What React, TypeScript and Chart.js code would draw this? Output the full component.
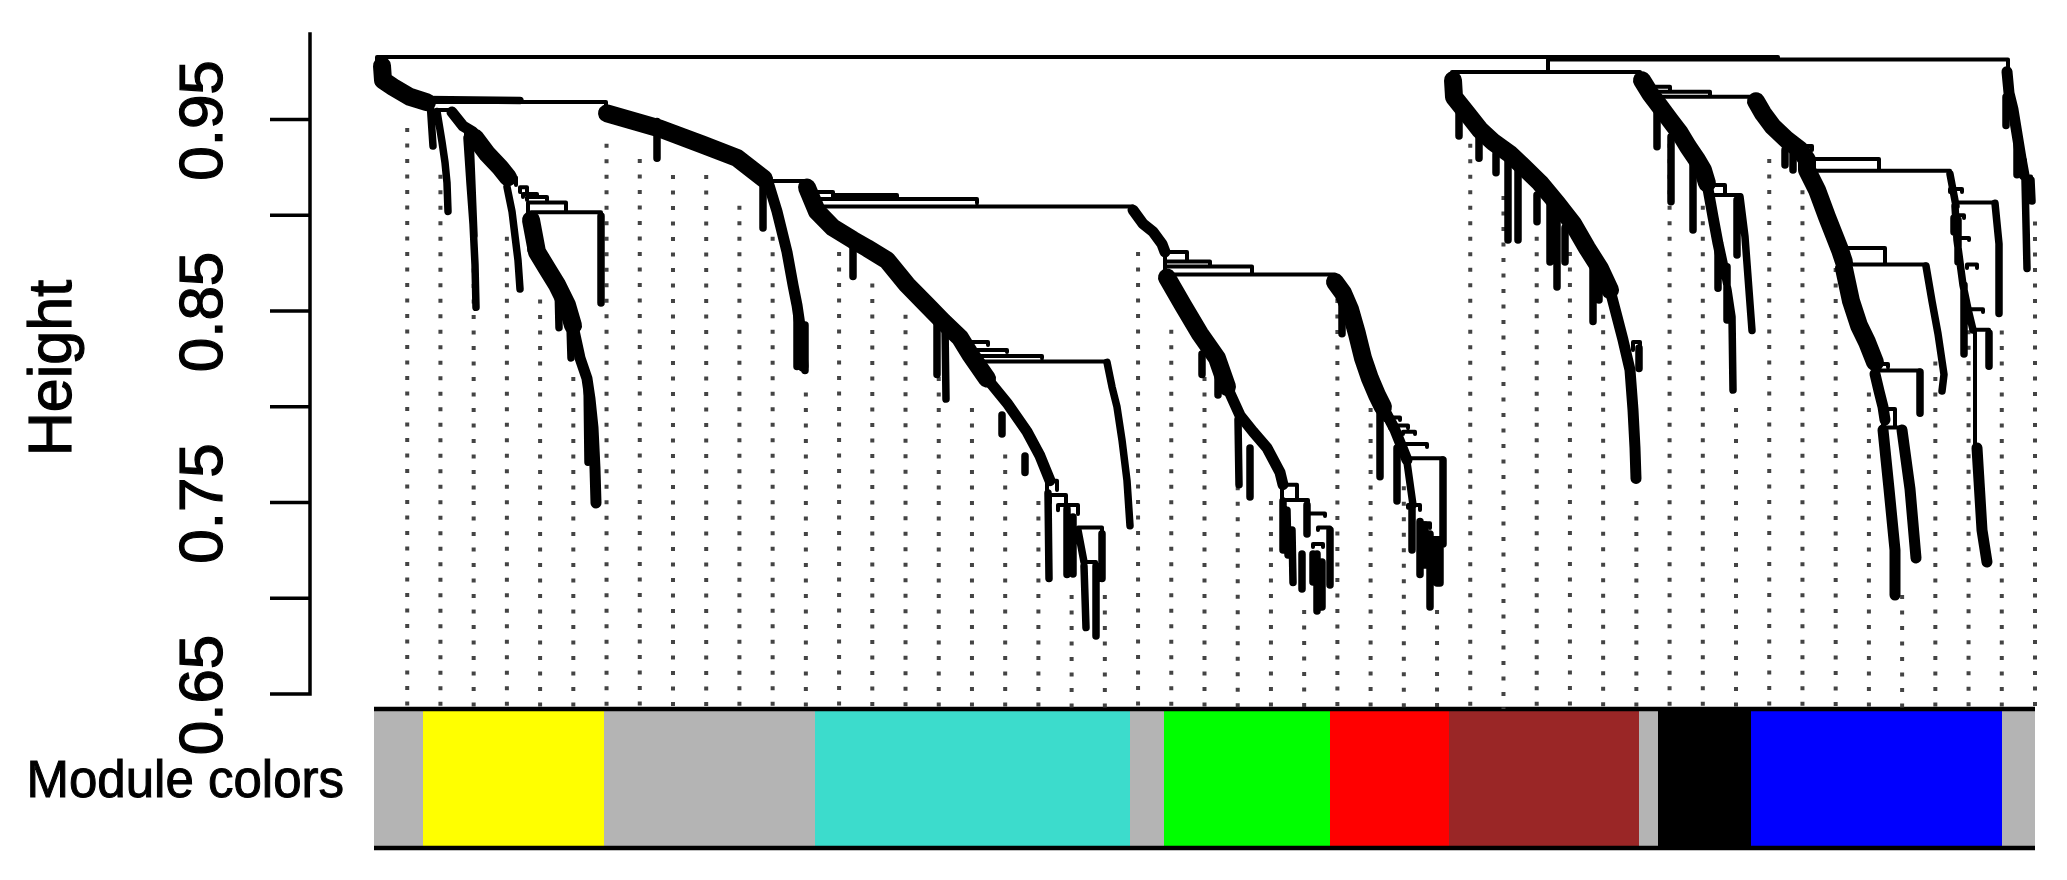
import React, { useEffect, useRef } from 'react';
import { Chart, registerables } from 'chart.js';

Chart.register(...registerables);

// ---------- data ----------
const LEAF_COUNT = 1661; // genes along the dendrogram (leaf order index)

// module colour bar: start leaf of each run, and its module colour
const moduleStarts = [0, 49, 230, 441, 756, 790, 956, 1075, 1265, 1284, 1377, 1628];
const moduleNames = ['grey', 'yellow', 'grey', 'turquoise', 'grey', 'green', 'red', 'brown', 'grey', 'black', 'blue', 'grey'];
const moduleHex: Record<string, string> = {
  grey: '#B4B4B4', yellow: '#FFFF00', turquoise: '#3CDCCC', green: '#00FF00',
  red: '#FF0000', brown: '#9A2626', black: '#000000', blue: '#0000FF',
};

// y axis
const yTickValues = [0.65, 0.7, 0.75, 0.8, 0.85, 0.9, 0.95];
const yTickLabels = ['0.65', '', '0.75', '', '0.85', '', '0.95'];
const yAxisTop = 0.9955;

// heights at which the 50 dotted guide lines start
const guideTops = [
  0.9456, 0.9212, 0.8722, 0.8888, 0.856, 0.8155, 0.9374, 0.9294, 0.921, 0.921,
  0.905, 0.8888, 0.8075, 0.8808, 0.8643, 0.8481, 0.8155, 0.7993, 0.775, 0.7508,
  0.7017, 0.7017, 0.8808, 0.8402, 0.8155, 0.7585, 0.7508, 0.6939, 0.8643, 0.7993,
  0.7585, 0.6939, 0.9374, 0.91, 0.8888, 0.8808, 0.8481, 0.7508, 0.9374, 0.905,
  0.7993, 0.9294, 0.913, 0.8725, 0.8075, 0.7017, 0.8236, 0.8481, 0.8398, 0.8967,
];

// merges: [left leaf pos, left child height, right leaf pos, right child height, merge height]
const links: number[][] = [
  [3, 0.979, 1404, 0.9813, 0.9826],
  [1174, 0.9748, 1634, 0.9755, 0.9813],
  [1078, 0.9738, 1266, 0.9723, 0.9748],
  [53, 0.956, 232, 0.9544, 0.9591],
  [63, 0.9535, 78, 0.9539, 0.955],
  [92, 0.9419, 101, 0.9419, 0.9445],
  [134, 0.9158, 142, 0.9158, 0.9197],
  [146, 0.9121, 153, 0.9121, 0.9146],
  [149, 0.9095, 163, 0.9095, 0.9111],
  [153, 0.908, 173, 0.908, 0.9095],
  [154, 0.9001, 192, 0.9015, 0.9066],
  [157, 0.8978, 227, 0.8996, 0.9015],
  [389, 0.9205, 430, 0.9153, 0.9179],
  [436, 0.9121, 459, 0.9106, 0.9122],
  [459, 0.909, 523, 0.909, 0.9106],
  [443, 0.9064, 603, 0.9064, 0.9085],
  [441, 0.9027, 759, 0.9027, 0.9046],
  [589, 0.8322, 614, 0.8322, 0.8338],
  [596, 0.8286, 633, 0.8286, 0.8296],
  [593, 0.8255, 668, 0.8255, 0.8265],
  [598, 0.8218, 733, 0.8232, 0.8236],
  [673, 0.7565, 683, 0.7565, 0.7614],
  [676, 0.75, 692, 0.7466, 0.7539],
  [684, 0.746, 704, 0.744, 0.7487],
  [704, 0.7356, 728, 0.7337, 0.7369],
  [710, 0.7168, 722, 0.7168, 0.7189],
  [791, 0.8758, 813, 0.8758, 0.8808],
  [791, 0.8733, 836, 0.8733, 0.8758],
  [791, 0.869, 878, 0.869, 0.8733],
  [793, 0.8662, 961, 0.8658, 0.869],
  [908, 0.7519, 923, 0.7519, 0.7593],
  [909, 0.7498, 934, 0.7487, 0.7513],
  [933, 0.7429, 951, 0.7429, 0.7443],
  [944, 0.7356, 956, 0.7356, 0.7369],
  [939, 0.7268, 949, 0.7268, 0.7283],
  [1011, 0.7931, 1026, 0.7931, 0.7944],
  [1016, 0.7889, 1034, 0.7889, 0.7902],
  [1029, 0.7858, 1041, 0.7858, 0.787],
  [1031, 0.779, 1053, 0.779, 0.7806],
  [1033, 0.7711, 1069, 0.7722, 0.7731],
  [1034, 0.7472, 1046, 0.7461, 0.7487],
  [1046, 0.7377, 1056, 0.7367, 0.7391],
  [1054, 0.7304, 1066, 0.7294, 0.7315],
  [1174, 0.9066, 1183, 0.9066, 0.9097],
  [1259, 0.8296, 1266, 0.8296, 0.8338],
  [1281, 0.9645, 1296, 0.9645, 0.9671],
  [1283, 0.9619, 1336, 0.9619, 0.9645],
  [1286, 0.9567, 1383, 0.9611, 0.9619],
  [1333, 0.9116, 1351, 0.9116, 0.9158],
  [1334, 0.909, 1366, 0.9097, 0.9106],
  [1426, 0.9341, 1438, 0.9341, 0.9362],
  [1430, 0.9263, 1505, 0.9233, 0.9294],
  [1432, 0.921, 1576, 0.9215, 0.9233],
  [1468, 0.8808, 1511, 0.8743, 0.8829],
  [1470, 0.8722, 1552, 0.8735, 0.8743],
  [1500, 0.8208, 1514, 0.8208, 0.8223],
  [1501, 0.8171, 1546, 0.8181, 0.8189],
  [1509, 0.7899, 1521, 0.7899, 0.7988],
  [1509, 0.7879, 1528, 0.7879, 0.7891],
  [1576, 0.9121, 1588, 0.9121, 0.9137],
  [1582, 0.9048, 1621, 0.9063, 0.9067],
  [1580, 0.8986, 1590, 0.8986, 0.9],
  [1583, 0.8871, 1595, 0.8871, 0.8881],
  [1593, 0.8725, 1603, 0.8725, 0.8743],
  [1595, 0.8495, 1609, 0.8495, 0.8509],
  [1601, 0.7785, 1615, 0.8385, 0.8402],
  [1644, 0.9221, 1651, 0.9221, 0.9288],
  [1650, 0.9184, 1657, 0.9184, 0.9202],
];

// dense cascades of many small merges: [leaf pos, height] paths
const denseCascades: number[][][] = [
  [[8, 0.978], [9, 0.9705], [19, 0.967], [36, 0.9618], [53, 0.959]],
  [[233, 0.9532], [286, 0.9452], [329, 0.9368], [363, 0.93], [390, 0.919]],
  [[101, 0.9405], [113, 0.9322], [126, 0.925], [134, 0.9198]],
  [[157, 0.8975], [163, 0.8808], [173, 0.8722], [183, 0.8637], [193, 0.8531], [199, 0.8424]],
  [[433, 0.9145], [443, 0.902], [459, 0.8935], [479, 0.8871], [493, 0.8829], [513, 0.8765], [533, 0.8637], [553, 0.8531], [569, 0.8445], [586, 0.836], [596, 0.8275], [613, 0.8147]],
  [[793, 0.8675], [809, 0.853], [826, 0.8381], [843, 0.8254], [853, 0.8104]],
  [[961, 0.8652], [969, 0.8594], [976, 0.8509], [983, 0.8381], [989, 0.8254], [996, 0.8147], [1003, 0.8061], [1009, 0.7998]],
  [[1079, 0.9705], [1080, 0.9617], [1093, 0.9532], [1106, 0.9446], [1119, 0.9383], [1136, 0.9319], [1149, 0.9255], [1166, 0.9169], [1183, 0.9063], [1199, 0.8956], [1213, 0.8829], [1226, 0.8722], [1236, 0.861]],
  [[1268, 0.9705], [1276, 0.9637], [1286, 0.9567], [1296, 0.9497], [1306, 0.9428], [1314, 0.9358], [1323, 0.9289], [1329, 0.9236], [1333, 0.9167]],
  [[1382, 0.9595], [1389, 0.9532], [1399, 0.9462], [1413, 0.9393], [1426, 0.9341], [1433, 0.9289], [1433, 0.9236], [1443, 0.9132], [1453, 0.8992], [1466, 0.8819], [1470, 0.8756]],
  [[1470, 0.8722], [1477, 0.8552], [1485, 0.8424], [1493, 0.8338], [1501, 0.8232]],
];

// tapering branch tails
const branchTails: number[][][] = [
  [[199, 0.8424], [206, 0.8255], [213, 0.8147], [216, 0.8041], [219, 0.7891], [221, 0.7678], [222, 0.7497]],
  [[393, 0.9191], [403, 0.902], [413, 0.8808], [419, 0.8636], [423, 0.8531], [426, 0.8424], [429, 0.8211]],
  [[613, 0.8147], [633, 0.802], [653, 0.787], [666, 0.7743], [676, 0.7614]],
  [[759, 0.9027], [769, 0.8956], [779, 0.8914], [788, 0.885], [791, 0.8808]],
  [[853, 0.8104], [866, 0.7955], [879, 0.787], [893, 0.7785], [906, 0.7657], [909, 0.7593]],
  [[1009, 0.7998], [1021, 0.7879], [1029, 0.7774], [1033, 0.7722]],
  [[1236, 0.861], [1243, 0.847], [1249, 0.8349], [1256, 0.8192], [1259, 0.7983], [1261, 0.7785], [1262, 0.7625]],
  [[1333, 0.9167], [1339, 0.8992], [1344, 0.8853], [1349, 0.8731]],
  [[1501, 0.8171], [1505, 0.8082], [1509, 0.7999], [1511, 0.7931]],
  [[1509, 0.7879], [1515, 0.7571], [1521, 0.7252], [1521, 0.7017]],
  [[1528, 0.7879], [1536, 0.7571], [1542, 0.721]],
  [[1603, 0.7785], [1608, 0.7356], [1613, 0.7189]],
  [[1633, 0.975], [1635, 0.9638], [1639, 0.9553], [1643, 0.9425], [1647, 0.9297], [1650, 0.921]],
  [[78, 0.9539], [89, 0.9466], [99, 0.9435]],
];

// single leaf drops and small sub-branches
const leafDrops: number[][][] = [
  [[53, 0.9604], [146, 0.9599]],
  [[56, 0.9597], [59, 0.9362]],
  [[63, 0.9542], [68, 0.9383], [71, 0.9276], [73, 0.9169], [74, 0.902]],
  [[93, 0.9403], [96, 0.9169], [99, 0.8956], [101, 0.8743], [102, 0.8519]],
  [[96, 0.9403], [100, 0.8892]],
  [[133, 0.9147], [138, 0.902], [141, 0.8892], [144, 0.8765], [146, 0.8615]],
  [[227, 0.8996], [227, 0.8542]],
  [[156, 0.8978], [157, 0.8818]],
  [[184, 0.8636], [185, 0.8413]],
  [[196, 0.8424], [197, 0.8255]],
  [[213, 0.8147], [214, 0.771]],
  [[283, 0.9489], [283, 0.9297]],
  [[389, 0.9208], [389, 0.8933]],
  [[423, 0.8531], [423, 0.821]],
  [[431, 0.8427], [431, 0.8189]],
  [[479, 0.8829], [479, 0.868]],
  [[563, 0.8467], [563, 0.8168]],
  [[571, 0.8424], [572, 0.804]],
  [[628, 0.7957], [628, 0.7858]],
  [[651, 0.7743], [651, 0.7657]],
  [[733, 0.8232], [738, 0.8104], [743, 0.7999], [748, 0.7826], [753, 0.7614], [756, 0.7379]],
  [[674, 0.755], [675, 0.7103]],
  [[693, 0.7466], [693, 0.7124]],
  [[699, 0.7424], [699, 0.7127]],
  [[728, 0.7337], [728, 0.7103]],
  [[704, 0.7356], [710, 0.7189]],
  [[710, 0.7168], [712, 0.6847]],
  [[722, 0.7168], [722, 0.6803]],
  [[828, 0.8275], [828, 0.8168]],
  [[844, 0.8255], [844, 0.8061]],
  [[864, 0.7934], [865, 0.7593]],
  [[876, 0.7785], [876, 0.7529]],
  [[909, 0.7508], [909, 0.7252]],
  [[913, 0.746], [914, 0.7226]],
  [[918, 0.7356], [919, 0.7082]],
  [[928, 0.7231], [928, 0.7048]],
  [[933, 0.7487], [933, 0.7335]],
  [[939, 0.7231], [939, 0.7085]],
  [[943, 0.7231], [943, 0.6933]],
  [[948, 0.7189], [948, 0.6954]],
  [[956, 0.7356], [956, 0.7069]],
  [[968, 0.8594], [968, 0.8381]],
  [[1006, 0.8041], [1006, 0.7635]],
  [[1023, 0.7785], [1023, 0.7508]],
  [[1069, 0.7722], [1069, 0.7283]],
  [[1033, 0.7711], [1039, 0.7487]],
  [[1038, 0.7487], [1038, 0.7252]],
  [[1046, 0.7401], [1046, 0.7124]],
  [[1051, 0.7383], [1051, 0.7174]],
  [[1056, 0.7335], [1056, 0.6954]],
  [[1063, 0.7294], [1063, 0.708]],
  [[1066, 0.7278], [1066, 0.708]],
  [[1085, 0.9545], [1085, 0.9414]],
  [[1105, 0.9446], [1105, 0.9297]],
  [[1122, 0.932], [1122, 0.9222]],
  [[1134, 0.932], [1134, 0.8871]],
  [[1144, 0.9276], [1144, 0.8871]],
  [[1163, 0.9106], [1163, 0.8966]],
  [[1176, 0.9064], [1176, 0.8756]],
  [[1183, 0.902], [1183, 0.8625]],
  [[1191, 0.8935], [1191, 0.8756]],
  [[1219, 0.8743], [1219, 0.8445]],
  [[1225, 0.8725], [1225, 0.8557]],
  [[1265, 0.8307], [1265, 0.82]],
  [[1283, 0.9532], [1283, 0.9358]],
  [[1297, 0.941], [1297, 0.9071]],
  [[1319, 0.9289], [1319, 0.8923]],
  [[1344, 0.8836], [1344, 0.8619]],
  [[1353, 0.8731], [1353, 0.8453]],
  [[1349, 0.8731], [1354, 0.861], [1358, 0.847], [1359, 0.8087]],
  [[1366, 0.9097], [1371, 0.8888], [1378, 0.8398]],
  [[1363, 0.908], [1363, 0.8792]],
  [[1411, 0.9341], [1411, 0.9263]],
  [[1419, 0.9325], [1419, 0.9236]],
  [[1552, 0.8735], [1558, 0.8552], [1564, 0.8381], [1570, 0.8168], [1568, 0.8082]],
  [[1546, 0.8181], [1546, 0.7966]],
  [[1576, 0.9215], [1582, 0.9048]],
  [[1581, 0.9048], [1583, 0.8871], [1589, 0.8636], [1594, 0.851], [1599, 0.8401]],
  [[1621, 0.9063], [1625, 0.885], [1625, 0.8487]],
  [[1580, 0.8986], [1580, 0.8913]],
  [[1584, 0.8975], [1584, 0.8756]],
  [[1590, 0.8636], [1590, 0.8275]],
  [[1615, 0.8385], [1615, 0.8211]],
  [[1632, 0.9617], [1632, 0.9468]],
  [[1643, 0.9425], [1643, 0.9212]],
  [[1651, 0.9184], [1653, 0.8722]],
  [[1657, 0.9184], [1658, 0.9074]],
];

// colour bar extent on the height scale (below the dendrogram)
const barTopH = 0.6422;
const barBottomH = 0.5696;

// ---------- helpers turning the arrays into Chart.js series ----------
type P = { x: number; y: number | null };
function pathData(paths: number[][][]): P[] {
  const out: P[] = [];
  paths.forEach((p) => {
    p.forEach(([x, y]) => out.push({ x, y }));
    out.push({ x: p[p.length - 1][0], y: null });
  });
  return out;
}
function linkData(ls: number[][]): P[] {
  const out: P[] = [];
  ls.forEach(([xl, hl, xr, hr, hm]) => {
    out.push({ x: xl, y: hl }, { x: xl, y: hm }, { x: xr, y: hm }, { x: xr, y: hr }, { x: xr, y: null });
  });
  return out;
}
function guideData(): P[] {
  const out: P[] = [];
  guideTops.forEach((top, i) => {
    const gx = ((i + 1) * LEAF_COUNT) / guideTops.length;
    out.push({ x: gx, y: top }, { x: gx, y: barTopH }, { x: gx, y: null });
  });
  return out;
}

const FONT = '"Liberation Sans", Arial, Helvetica, sans-serif';

function boldText(ctx: any, s: string, x: number, y: number) {
  ctx.fillText(s, x, y);
  ctx.strokeText(s, x, y);
}

const moduleBarPlugin = {
  id: 'moduleBar',
  beforeDatasetsDraw(chart: any) {
    const { ctx } = chart;
    const xs = chart.scales.x;
    const ys = chart.scales.y;
    const top = ys.getPixelForValue(barTopH);
    const bottom = ys.getPixelForValue(barBottomH);
    ctx.save();
    moduleStarts.forEach((s, i) => {
      const e = i + 1 < moduleStarts.length ? moduleStarts[i + 1] : LEAF_COUNT;
      const x0 = xs.getPixelForValue(s);
      const x1 = xs.getPixelForValue(e);
      ctx.fillStyle = moduleHex[moduleNames[i]];
      ctx.fillRect(x0, top, x1 - x0, bottom - top);
    });
    ctx.strokeStyle = '#000';
    ctx.lineWidth = 4.5;
    ctx.beginPath();
    ctx.moveTo(xs.getPixelForValue(0), top);
    ctx.lineTo(xs.getPixelForValue(LEAF_COUNT), top);
    ctx.moveTo(xs.getPixelForValue(0), bottom);
    ctx.lineTo(xs.getPixelForValue(LEAF_COUNT), bottom);
    ctx.stroke();
    // row label
    ctx.fillStyle = '#000';
    ctx.lineWidth = 1;
    ctx.font = `51px ${FONT}`;
    ctx.textAlign = 'right';
    ctx.textBaseline = 'alphabetic';
    boldText(ctx, 'Module colors', xs.getPixelForValue(0) - 30, (top + bottom) / 2 + 19);
    ctx.restore();
  },
};

const axisPlugin = {
  id: 'heightAxis',
  afterDraw(chart: any) {
    const { ctx } = chart;
    const xs = chart.scales.x;
    const ys = chart.scales.y;
    const ax = xs.getPixelForValue(0) - 64;
    ctx.save();
    ctx.strokeStyle = '#000';
    ctx.lineWidth = 3.5;
    ctx.lineCap = 'butt';
    ctx.beginPath();
    ctx.moveTo(ax, ys.getPixelForValue(yTickValues[0]) + 1.75);
    ctx.lineTo(ax, ys.getPixelForValue(yAxisTop));
    yTickValues.forEach((v) => {
      const py = ys.getPixelForValue(v);
      ctx.moveTo(ax - 40, py);
      ctx.lineTo(ax + 1.75, py);
    });
    ctx.stroke();
    ctx.fillStyle = '#000';
    ctx.lineWidth = 1.2;
    ctx.textAlign = 'center';
    ctx.textBaseline = 'alphabetic';
    ctx.font = `62px ${FONT}`;
    yTickValues.forEach((v, i) => {
      if (!yTickLabels[i]) return;
      ctx.save();
      ctx.translate(ax - 88, ys.getPixelForValue(v) + 1);
      ctx.rotate(-Math.PI / 2);
      boldText(ctx, yTickLabels[i], 0, 0);
      ctx.restore();
    });
    ctx.save();
    ctx.font = `61px ${FONT}`;
    ctx.translate(ax - 239, ys.getPixelForValue(0.8202));
    ctx.rotate(-Math.PI / 2);
    boldText(ctx, 'Height', 0, 0);
    ctx.restore();
    ctx.restore();
  },
};

function lineSet(label: string, data: P[], width: number, extra: any = {}) {
  return {
    label,
    data,
    showLine: true,
    borderColor: '#000',
    backgroundColor: '#000',
    borderWidth: width,
    pointRadius: 0,
    pointHoverRadius: 0,
    borderCapStyle: 'round',
    borderJoinStyle: 'round',
    spanGaps: false,
    fill: false,
    ...extra,
  };
}

export default function App() {
  const ref = useRef<HTMLCanvasElement>(null);
  useEffect(() => {
    const canvas = ref.current;
    if (!canvas) return;
    const chart = new Chart(canvas, {
      type: 'scatter',
      data: {
        datasets: [
          lineSet('merges', linkData(links), 4),
          lineSet('leaf drops', pathData(leafDrops), 7.5),
          lineSet('branch tails', pathData(branchTails), 11),
          lineSet('dense cascades', pathData(denseCascades), 18),
          lineSet('guides', guideData(), 4, {
            borderColor: '#444444',
            borderDash: [4, 11.5],
            borderCapStyle: 'butt',
          }),
        ] as any,
      },
      options: {
        responsive: false,
        animation: false,
        events: [],
        layout: { padding: 0 },
        plugins: {
          legend: { display: false },
          tooltip: { enabled: false },
          title: { display: false },
        },
        scales: {
          x: { type: 'linear', display: false, min: -374, max: 1693, bounds: 'data' },
          y: { type: 'linear', display: false, min: 0.55287, max: 1.0124, bounds: 'data' },
        },
      } as any,
      plugins: [moduleBarPlugin, axisPlugin],
    });
    return () => chart.destroy();
  }, []);
  return (
    <div style={{ position: 'absolute', left: 0, top: 0, width: 2067, height: 880, background: '#fff' }}>
      <canvas ref={ref} width={2067} height={880} style={{ display: 'block', width: '2067px', height: '880px' }} />
    </div>
  );
}
